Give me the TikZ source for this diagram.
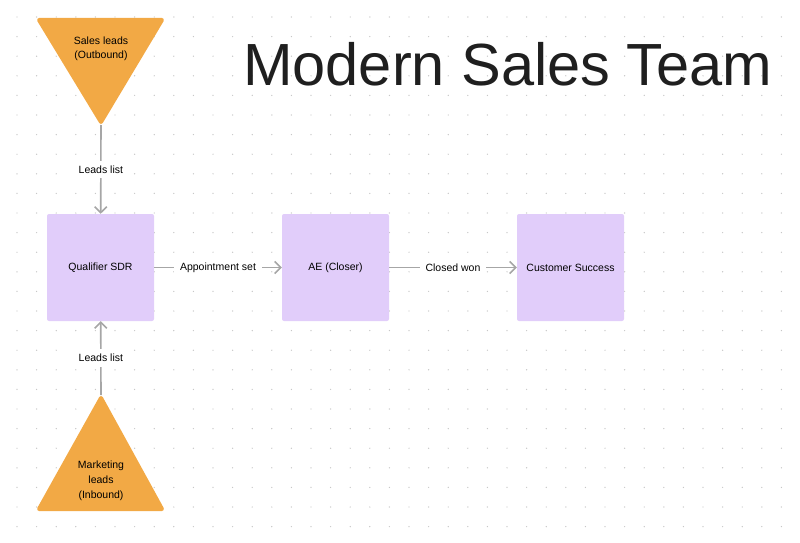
\documentclass[tikz,border=0pt]{standalone}
\usepackage{fontspec}
\setmainfont{Liberation Sans}
\usetikzlibrary{arrows.meta,positioning,calc}
\definecolor{leadorange}{HTML}{F2A945}
\definecolor{teamlilac}{HTML}{E1CDFA}
\definecolor{linkgray}{HTML}{A6A6A6}
\tikzset{
  teambox/.style={fill=teamlilac, rounded corners=2pt, minimum width=107pt, minimum height=107pt, font=\fontsize{10.5}{12}\selectfont},
  leadtri/.style={fill=leadorange, draw=leadorange, line width=4pt, line join=round},
  flow/.style={draw=linkgray, line width=1.6pt, -{Straight Barb[length=6pt,width=12pt,line width=1.6pt]}},
  flowlabel/.style={fill=white, inner xsep=6pt, inner ysep=5pt, font=\fontsize{10.5}{12}\selectfont}
}
\begin{document}
\begin{tikzpicture}[x=1pt,y=-1pt]
    \useasboundingbox (0,0) rectangle (800,543);
    % dot grid
    \foreach \i in {0,...,40}
      \foreach \j in {0,...,27}
        \fill[black!22] (17+19.6*\i,17+19.6*\j) circle (0.7pt);

    % lead sources
    \filldraw[leadtri] (39,20) -- (162,20) -- (101,122) -- cycle;
    \filldraw[leadtri] (39,509) -- (162,509) -- (101,398) -- cycle;
    \node[align=center, font=\fontsize{10.5}{14}\selectfont] (sales) at (101,49) {Sales leads\\(Outbound)};
    \node[align=center, font=\fontsize{10.5}{15}\selectfont] (marketing) at (101,481) {Marketing\\leads\\(Inbound)};
    \coordinate (salestip) at (101,125);
    \coordinate (marketingtip) at (101,395);

    % team
    \node[teambox] (sdr) at (100.5,267.5) {Qualifier SDR};
    \node[teambox] (ae) at (335.5,267.5) {AE (Closer)};
    \node[teambox] (cs) at (570.5,267.5) {Customer Success};

    \draw[flow] (salestip) -- node[flowlabel] {Leads list} (sdr);
    \draw[flow] (marketingtip) -- node[flowlabel] {Leads list} (sdr);
    \draw[flow] (sdr) -- node[flowlabel] {Appointment set} (ae);
    \draw[flow] (ae) -- node[flowlabel] {Closed won} (cs);

    \node[anchor=base west, inner sep=0, font=\fontsize{59.5}{64}\selectfont, text=black!88] (title) at (243,85) {Modern Sales Team};
\end{tikzpicture}
\end{document}
